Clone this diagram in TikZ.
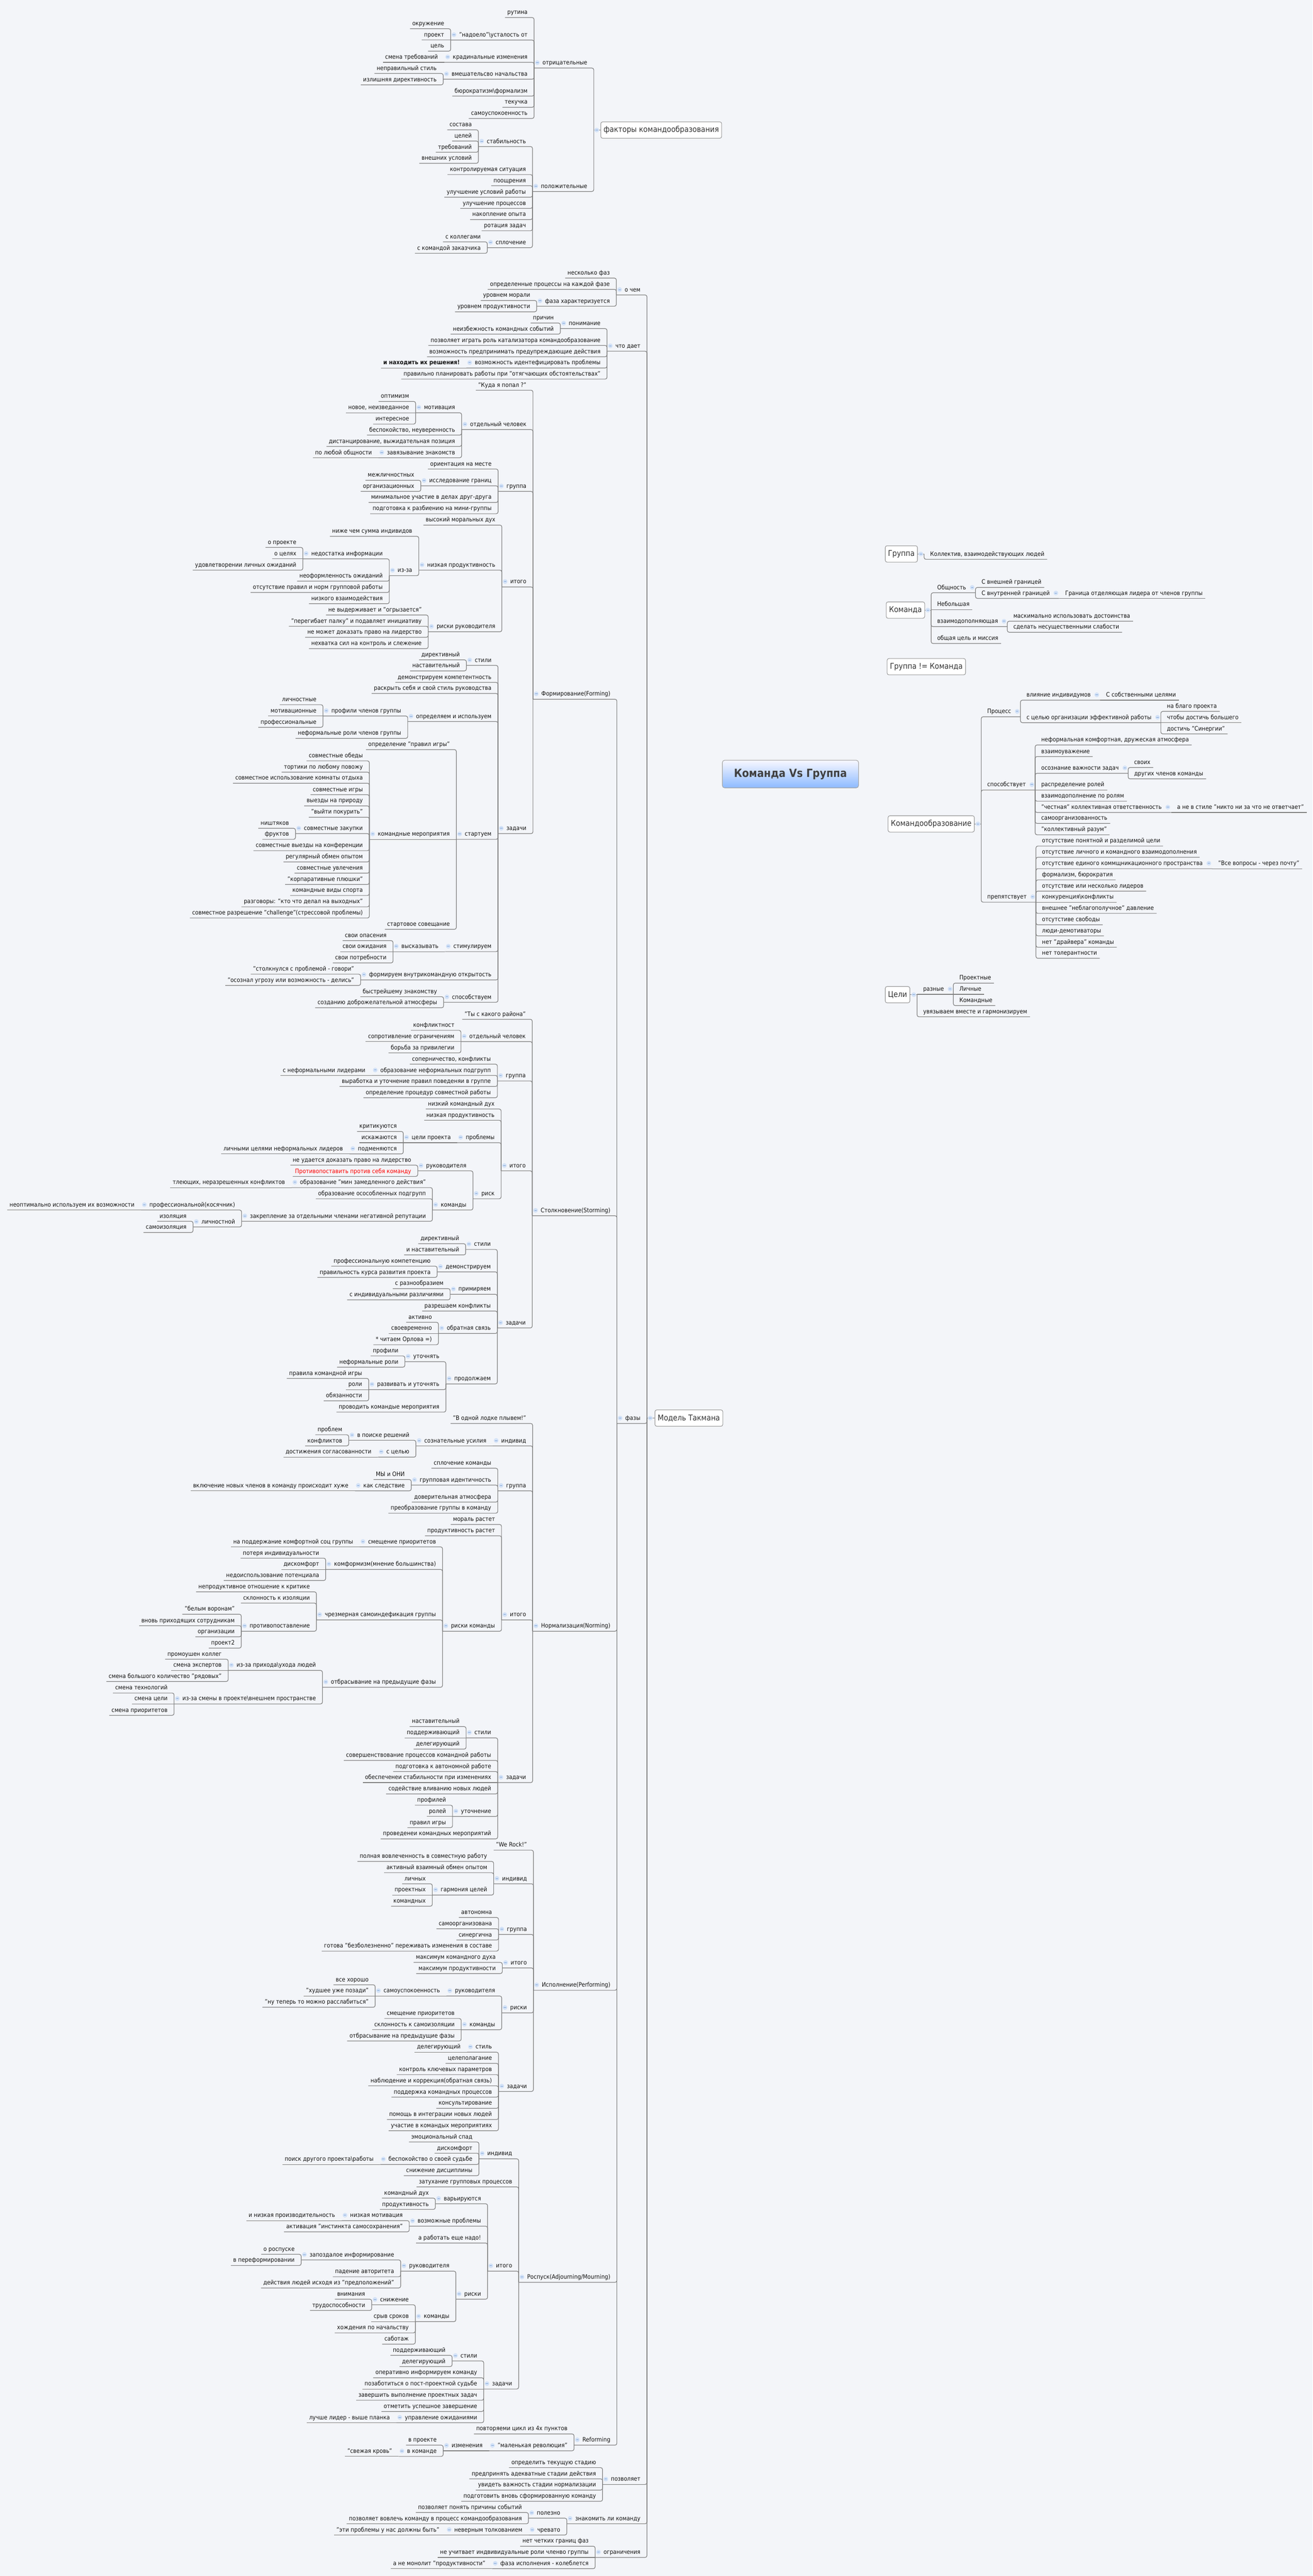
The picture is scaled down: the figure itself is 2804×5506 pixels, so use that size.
\documentclass[tikz,border=0pt]{standalone}
\usepackage{fontspec}
\setmainfont{DejaVu Sans}[FakeStretch=0.89]
\usetikzlibrary{backgrounds}
\definecolor{pagebg}{HTML}{F3F5F9}
\definecolor{linecol}{HTML}{808080}
\definecolor{icfill}{HTML}{D3E2F7}
\definecolor{icline}{HTML}{7FA3D6}
\newcounter{lf}
\tikzset{
  tp/.style={inner xsep=0pt,inner ysep=0pt,outer sep=0pt,text height=10pt,text depth=7pt,font=\fontsize{13pt}{15pt}\selectfont,text=black!92},
  conn/.style={draw=linecol,line width=1.3pt,rounded corners=4pt},
  rootline/.style={draw=linecol,line width=1pt},
  bx/.style={draw=black!40,fill=white,line width=1.2pt,rounded corners=4pt,minimum height=35pt,inner xsep=6pt,inner ysep=0pt,outer sep=0pt,font=\fontsize{17pt}{20pt}\selectfont,text=black!80},
  ic/.style={circle,fill=icfill,inner sep=0pt,outer sep=0pt,minimum size=10pt},
  icm/.style={draw=icline,line width=1pt},
  hub/.style={inner sep=0pt,outer sep=0pt,minimum size=0pt}
}
\newcommand{\connL}[2]{%
  \pgfpointanchor{#1}{south}\pgfgetlastxy{\cxa}{\cya}%
  \pgfpointanchor{#2}{south}\pgfgetlastxy{\pxa}{\pya}%
  \pgfmathtruncatemacro{\samey}{abs(\cya-\pya)<1.5}%
  \ifnum\samey=1 \draw[conn] (#1.south west) -- (#1.south east);%
  \else \draw[conn] (#1.south west) -- (#1.south east) -- (#1.south east |- #2.south west);\fi}
\newcommand{\connR}[2]{%
  \pgfpointanchor{#1}{south}\pgfgetlastxy{\cxa}{\cya}%
  \pgfpointanchor{#2}{south}\pgfgetlastxy{\pxa}{\pya}%
  \pgfmathtruncatemacro{\samey}{abs(\cya-\pya)<1.5}%
  \ifnum\samey=1 \draw[conn] (#1.south east) -- (#1.south west);%
  \else \draw[conn] (#1.south east) -- (#1.south west) -- (#1.south west |- #2.south east);\fi}
% left-growing: topic with children, and leaf
\newcommand{\TL}[5][]{%
  \node[tp,anchor=south east,#1] (#2) at (#3.south west |- 0,#4) {\hspace*{18pt}#5\hspace*{14pt}};%
  \connL{#2}{#3}%
  \node[ic] (#2-i) at ([shift={(7,-11.5)}]#2.south west) {};%
  \draw[icm] ([xshift=2.5pt]#2-i.west) -- ([xshift=-2.5pt]#2-i.east);}
\newcommand{\LL}[4][]{%
  \stepcounter{lf}\edef\nm{l\arabic{lf}}%
  \node[tp,anchor=south east,#1] (\nm) at (#2.south west |- 0,#3) {\hspace*{5pt}#4\hspace*{14pt}};%
  \connL{\nm}{#2}}
% right-growing
\newcommand{\TR}[5][]{%
  \node[tp,anchor=south west,#1] (#2) at (#3.south east |- 0,#4) {\hspace*{13pt}#5\hspace*{20pt}};%
  \connR{#2}{#3}%
  \node[ic] (#2-i) at ([shift={(-7,-11.5)}]#2.south east) {};%
  \draw[icm] ([xshift=2.5pt]#2-i.west) -- ([xshift=-2.5pt]#2-i.east);}
\newcommand{\LR}[4][]{%
  \stepcounter{lf}\edef\nm{l\arabic{lf}}%
  \node[tp,anchor=south west,#1] (\nm) at (#2.south east |- 0,#3) {\hspace*{13pt}#4\hspace*{6pt}};%
  \connR{\nm}{#2}}
\newcommand{\boxicon}[2]{%
  \node[ic] (#1) at (#2) {};%
  \draw[icm] ([xshift=2.5pt]#1.west) -- ([xshift=-2.5pt]#1.east);}
\newcommand{\bs}{\textbackslash{}}
\begin{document}
\begin{tikzpicture}[x=1pt,y=-1pt]
\path[use as bounding box] (0,0) rectangle (2804,5506);
\fill[pagebg] (0,0) rectangle (2804,5506);
% central and main boxes
\node[draw=black!35,line width=1.2pt,rounded corners=5pt,top color=blue!3!white,bottom color=cyan!40!blue!45!white,minimum width=291pt,minimum height=59pt,inner sep=0pt,outer sep=0pt,font=\bfseries\fontsize{24pt}{28pt}\selectfont,text=black!75] (root) at (1688.5,1654.5) {Команда Vs Группа};
\node[bx,anchor=east] (fb) at (1541.6,278) {факторы командообразования};
\node[bx,anchor=east] (mb) at (1544,3031) {Модель Такмана};
\node[bx,anchor=west] (gb) at (1891,1184) {Группа};
\node[bx,anchor=west] (kb) at (1893,1304) {Команда};
\node[bx,anchor=west] (nb) at (1895,1425) {Группа != Команда};
\node[bx,anchor=west] (ob) at (1897,1761) {Командообразование};
\node[bx,anchor=west] (cb) at (1891,2126) {Цели};
\begin{scope}[on background layer]
\draw[rootline] (root.center) -- (fb.east);
\draw[rootline] (root.center) -- (mb.east);
\draw[rootline] (root.center) -- (gb.west);
\draw[rootline] (root.center) -- (kb.west);
\draw[rootline] (root.center) -- (nb.west);
\draw[rootline] (root.center) -- (ob.west);
\draw[rootline] (root.center) -- (cb.west);
\end{scope}
% hubs
\node[hub] (fh) at (1268.4,278) {};
\node[hub] (mh) at (1382,3031) {};
\node[hub] (gh) at (1974,1184) {};
\node[hub] (kh) at (1989,1304) {};
\node[hub] (oh) at (2096,1761) {};
\node[hub] (ch) at (1959,2126) {};
\draw[conn] (fh) -- (fb.west);
\draw[conn] (mh) -- (mb.west);
\draw[conn] (gh) -- (gb.east);
\draw[conn] (kh) -- (kb.east);
\draw[conn] (oh) -- (ob.east);
\draw[conn] (ch) -- (cb.east);
\boxicon{fi}{1274.6,278}
\boxicon{mi}{1389,3031}
\boxicon{gi}{1967,1184}
\boxicon{ki}{1982,1304}
\boxicon{oi}{2089,1761}
\boxicon{ci}{1952,2126}
% ---- факторы
\TL{f1}{fh}{145.4}{отрицательные}
\LL{f1}{37.5}{рутина}
\TL{f11}{f1}{85.7}{"надоело"\bs усталость от}
\LL{f11}{61.4}{окружение}
\LL{f11}{85.7}{проект}
\LL{f11}{109.3}{цель}
\TL{f12}{f1}{133.2}{крадинальные изменения}
\LL{f12}{133.2}{смена требований}
\TL{f13}{f1}{169.3}{вмешательсво начальства}
\LL{f13}{157}{неправильный стиль}
\LL{f13}{181.4}{излишняя директивность}
\LL{f1}{205.4}{бюрократизм\bs формализм}
\LL{f1}{229.3}{текучка}
\LL{f1}{253.2}{самоуспокоенность}
\TL{f2}{fh}{409.3}{положительные}
\TL{f21}{f2}{313.2}{стабильность}
\LL{f21}{277.5}{состава}
\LL{f21}{301.4}{целей}
\LL{f21}{325.4}{требований}
\LL{f21}{349}{внешних условий}
\LL{f2}{373.2}{контролируемая ситуация}
\LL{f2}{397}{поощрения}
\LL{f2}{421.4}{улучшение условий работы}
\LL{f2}{445.4}{улучшение процессов}
\LL{f2}{469.3}{накопление опыта}
\LL{f2}{493.2}{ротация задач}
\TL{f22}{f2}{529.3}{сплочение}
\LL{f22}{517}{с коллегами}
\LL{f22}{541.4}{с командой заказчика}
% ---- о чем
\TL{m1}{mh}{630.4}{о чем}
\LL{m1}{594.4}{несколько фаз}
\LL{m1}{618.5}{определенные процессы на каждой фазе}
\TL{m11}{m1}{654.5}{фаза характеризуется}
\LL{m11}{642.2}{уровнем морали}
\LL{m11}{666.4}{уровнем продуктивности}
% ---- что дает
\TL{m2}{mh}{750.6}{что дает}
\TL{m21}{m2}{702.3}{понимание}
\LL{m21}{690.5}{причин}
\LL{m21}{714.2}{неизбежность командных событий}
\LL{m2}{738.3}{позволяет играть роль катализатора командообразование}
\LL{m2}{762.5}{возможность предпринимать предупреждающие действия}
\TL{m22}{m2}{786.6}{возможность идентефицировать проблемы}
\LL{m22}{786.6}{\bfseries и находить их решения!}
\LL{m2}{810.3}{правильно планировать работы при "отягчающих обстоятельствах"}
% ---- фазы
\TL{ph}{mh}{3042.5}{фазы}
% Формирование
\TL{a}{ph}{1494.5}{Формирование(Forming)}
\LL{a}{834}{"Куда я попал ?"}
\TL{a1}{a}{918.2}{отдельный человек}
\TL{a11}{a1}{882.3}{мотивация}
\LL{a11}{858}{оптимизм}
\LL{a11}{882.3}{новое, неизведанное}
\LL{a11}{906.4}{интересное}
\LL{a1}{930}{беспокойство, неуверенность}
\LL{a1}{954.2}{дистанцирование, выжидательная позиция}
\TL{a12}{a1}{978.4}{завязывание знакомств}
\LL{a12}{978.4}{по любой общности}
\TL{a2}{a}{1050.3}{группа}
\LL{a2}{1002.5}{ориентация на месте}
\TL{a21}{a2}{1038.5}{исследование границ}
\LL{a21}{1026.6}{межличностных}
\LL{a21}{1050.3}{организационных}
\LL{a2}{1074}{минимальное участие в делах друг-друга}
\LL{a2}{1098}{подготовка к разбиению на мини-группы}
\TL{a3}{a}{1254.5}{итого}
\LL{a3}{1122.3}{высокий моральных дух}
\TL{a31}{a3}{1218.6}{низкая продуктивность}
\LL{a31}{1146.3}{ниже чем сумма индивидов}
\TL{a311}{a31}{1230.4}{из-за}
\TL{a3111}{a311}{1194.5}{недостатка информации}
\LL{a3111}{1170}{о проекте}
\LL{a3111}{1194.5}{о целях}
\LL{a3111}{1218.6}{удовлетворении личных ожиданий}
\LL{a311}{1242.2}{неоформленность ожиданий}
\LL{a311}{1266.3}{отсутствие правил и норм групповой работы}
\LL{a311}{1290.4}{низкого взаимодействия}
\TL{a32}{a3}{1350.4}{риски руководителя}
\LL{a32}{1314.5}{не выдерживает и "огрызается"}
\LL{a32}{1338.6}{"перегибает палку" и подавляет инициативу}
\LL{a32}{1362.2}{не может доказать право на лидерство}
\LL{a32}{1386.3}{нехватка сил на контроль и слежение}
\TL{a4}{a}{1781.8}{задачи}
\TL{a41}{a4}{1422.2}{стили}
\LL{a41}{1410.4}{директивный}
\LL{a41}{1434}{наставительный}
\LL{a4}{1458.6}{демонстрируем компетентность}
\LL{a4}{1482.2}{раскрыть себя и свой стиль руководства}
\TL{a42}{a4}{1542.2}{определяем и используем}
\TL{a421}{a42}{1530.4}{профили членов группы}
\LL{a421}{1506.3}{личностные}
\LL{a421}{1530.4}{мотивационные}
\LL{a421}{1554.5}{профессиональные}
\LL{a42}{1578.2}{неформальные роли членов группы}
\TL{a43}{a4}{1794}{стартуем}
\LL{a43}{1602.2}{определение "правил игры"}
\TL{a431}{a43}{1794}{командные мероприятия}
\LL{a431}{1626.3}{совместные обеды}
\LL{a431}{1650.4}{тортики по любому повожу}
\LL{a431}{1674}{совместное использование комнаты отдыха}
\LL{a431}{1698.6}{совместные игры}
\LL{a431}{1722.6}{выезды на природу}
\LL{a431}{1746.7}{"выйти покурить"}
\TL{a4311}{a431}{1781.8}{совместные закупки}
\LL{a4311}{1770.4}{ништяков}
\LL{a4311}{1794}{фруктов}
\LL{a431}{1818.2}{совместные выезды на конференции}
\LL{a431}{1842.2}{регулярный обмен опытом}
\LL{a431}{1866.3}{совместные увлечения}
\LL{a431}{1890.4}{"корпаративные плюшки"}
\LL{a431}{1914}{командные виды спорта}
\LL{a431}{1938.2}{разговоры: "кто что делал на выходных"}
\LL{a431}{1962.2}{совместное разрешение "challenge"(стрессовой проблемы)}
\LL{a43}{1986.3}{стартовое совещание}
\TL{a44}{a4}{2034}{стимулируем}
\TL{a441}{a44}{2034}{высказывать}
\LL{a441}{2010.4}{свои опасения}
\LL{a441}{2034}{свои ожидания}
\LL{a441}{2058.2}{свои потребности}
\TL{a45}{a4}{2094.5}{формируем внутрикомандную открытость}
\LL{a45}{2082.2}{"столкнулся с проблемой - говори"}
\LL{a45}{2106.3}{"осознал угрозу или возможность - делись"}
\TL{a46}{a4}{2142.2}{способствуем}
\LL{a46}{2130.4}{быстрейшему знакомству}
\LL{a46}{2154}{созданию доброжелательной атмосферы}
% Столкновение
\TL{b}{ph}{2598.5}{Столкновение(Storming)}
\LL{b}{2178.6}{"Ты с какого района"}
\TL{b1}{b}{2226.3}{отдельный человек}
\LL{b1}{2202.2}{конфликтност}
\LL{b1}{2226.3}{сопротивление ограничениям}
\LL{b1}{2250.4}{борьба за привилегии}
\TL{b2}{b}{2310.4}{группа}
\LL{b2}{2274.5}{соперничество, конфликты}
\TL{b21}{b2}{2298.6}{образование неформальных подгрупп}
\LL{b21}{2298.6}{с неформальными лидерами}
\LL{b2}{2322.2}{выработка и уточнение правил поведеняи в группе}
\LL{b2}{2346.3}{определение процедур совместной работы}
\TL{b3}{b}{2502.6}{итого}
\LL{b3}{2370.4}{низкий командный дух}
\LL{b3}{2394.4}{низкая продуктивность}
\TL{b31}{b3}{2442.4}{проблемы}
\TL{b311}{b31}{2442.4}{цели проекта}
\LL{b311}{2418.4}{критикуются}
\LL{b311}{2442.4}{искажаются}
\TL{b3111}{b311}{2466.4}{подменяются}
\LL{b3111}{2466.4}{личными целями неформальных лидеров}
\TL{b32}{b3}{2562.3}{риск}
\TL{b321}{b32}{2502.6}{руководителя}
\LL{b321}{2490.4}{не удается доказать право на лидерство}
\LL[text=red]{b321}{2514.4}{Противопоставить против себя команду}
\TL{b322}{b32}{2586.3}{команды}
\TL{b3221}{b322}{2538.4}{образование "мин замедленного действия"}
\LL{b3221}{2538.4}{тлеющих, неразрешенных конфликтов}
\LL{b322}{2562.3}{образование осособленных подгрупп}
\TL{b3222}{b322}{2610.3}{закрепление за отдельными членами негативной репутации}
\TL{b32221}{b3222}{2586.3}{профессиональной(косячник)}
\LL{b32221}{2586.3}{неоптимально используем их возможности}
\TL{b32222}{b3222}{2622.5}{личностной}
\LL{b32222}{2610.3}{изоляция}
\LL{b32222}{2634.3}{самоизоляция}
\TL{b4}{b}{2838.4}{задачи}
\TL{b41}{b4}{2670.5}{стили}
\LL{b41}{2658.3}{директивный}
\LL{b41}{2682.3}{и наставительный}
\TL{b42}{b4}{2718.5}{демонстрируем}
\LL{b42}{2706.3}{профессиональную компетенцию}
\LL{b42}{2730.3}{правильность курса развития проекта}
\TL{b43}{b4}{2766.5}{примиряем}
\LL{b43}{2754.3}{с разнообразием}
\LL{b43}{2778.3}{с индивидуальными различиями}
\LL{b4}{2802.2}{разрешаем конфликты}
\TL{b44}{b4}{2850.2}{обратная связь}
\LL{b44}{2826.2}{активно}
\LL{b44}{2850.2}{своевременно}
\LL{b44}{2874.2}{* читаем Орлова =)}
\TL{b45}{b4}{2958}{продолжаем}
\TL{b451}{b45}{2910.4}{уточнять}
\LL{b451}{2898.2}{профили}
\LL{b451}{2922.2}{неформальные роли}
\TL{b452}{b45}{2970.2}{развивать и уточнять}
\LL{b452}{2946.2}{правила командной игры}
\LL{b452}{2970.2}{роли}
\LL{b452}{2994.2}{обязанности}
\LL{b45}{3018.2}{проводить командые мероприятия}
% Нормализация
\TL{c}{ph}{3486.6}{Нормализация(Norming)}
\LL{c}{3042.5}{"В одной лодке плывем!"}
\TL{c1}{c}{3090.4}{индивид}
\TL{c11}{c1}{3090.4}{сознательные усилия}
\TL{c111}{c11}{3078.5}{в поиске решений}
\LL{c111}{3066.7}{проблем}
\LL{c111}{3090.4}{конфликтов}
\TL{c112}{c11}{3114.5}{с целью}
\LL{c112}{3114.5}{достижения согласованности}
\TL{c2}{c}{3186.5}{группа}
\LL{c2}{3138.2}{сплочение команды}
\TL{c21}{c2}{3174.2}{групповая идентичность}
\LL{c21}{3162.3}{МЫ и ОНИ}
\TL{c211}{c21}{3186.5}{как следствие}
\LL{c211}{3186.5}{включение новых членов в команду происходит хуже}
\LL{c2}{3210.6}{доверительная атмосфера}
\LL{c2}{3234.3}{преобразование группы в команду}
\TL{c3}{c}{3462.5}{итого}
\LL{c3}{3258.4}{мораль растет}
\LL{c3}{3282.6}{продуктивность растет}
\TL{c31}{c3}{3486.6}{риски команды}
\TL{c311}{c31}{3306.3}{смещение приоритетов}
\LL{c311}{3306.3}{на поддержание комфортной соц группы}
\TL{c312}{c31}{3354.5}{комформизм(мнение большинства)}
\LL{c312}{3330.4}{потеря индивидуальности}
\LL{c312}{3354.5}{дискомфорт}
\LL{c312}{3378.2}{недоиспользование потенциала}
\TL{c313}{c31}{3462.5}{чрезмерная самоиндефикация группы}
\LL{c313}{3402.4}{непродуктивное отношение к критике}
\LL{c313}{3426.5}{склонность к изоляции}
\TL{c3131}{c313}{3486.6}{противопоставление}
\LL{c3131}{3450.2}{"белым воронам"}
\LL{c3131}{3474.7}{вновь приходящих сотрудникам}
\LL{c3131}{3498.5}{организации}
\LL{c3131}{3522.6}{проект2}
\TL{c314}{c31}{3606.4}{отбрасывание на предыдущие фазы}
\TL{c3141}{c314}{3570.4}{из-за прихода\bs ухода людей}
\LL{c3141}{3546.3}{промоушен коллег}
\LL{c3141}{3570.4}{смена экспертов}
\LL{c3141}{3594}{смена большого количество "рядовых"}
\TL{c3142}{c314}{3642}{из-за смены в проекте\bs внешнем пространстве}
\LL{c3142}{3618.6}{смена технологий}
\LL{c3142}{3642}{смена цели}
\LL{c3142}{3666.3}{смена приоритетов}
\TL{c4}{c}{3810.2}{задачи}
\TL{c41}{c4}{3714.5}{стили}
\LL{c41}{3690.4}{наставительный}
\LL{c41}{3714.5}{поддерживающий}
\LL{c41}{3738.6}{делегирующий}
\LL{c4}{3762.7}{совершенствование процессов командной работы}
\LL{c4}{3786.5}{подготовка к автономной работе}
\LL{c4}{3810.2}{обеспеченеи стабильности при изменениях}
\LL{c4}{3834.3}{содействие вливанию новых людей}
\TL{c42}{c4}{3882.5}{уточнение}
\LL{c42}{3858.4}{профилей}
\LL{c42}{3882.5}{ролей}
\LL{c42}{3906.3}{правил игры}
\LL{c4}{3930.4}{проведенеи командных мероприятий}
% Исполнение
\TL{d}{ph}{4254}{Исполнение(Performing)}
\LL{d}{3954.5}{"We Rock!"}
\TL{d1}{d}{4026.4}{индивид}
\LL{d1}{3978.6}{полная вовлеченность в совместную работу}
\LL{d1}{4002.7}{активный взаимный обмен опытом}
\TL{d11}{d1}{4050.5}{гармония целей}
\LL{d11}{4026.4}{личных}
\LL{d11}{4050.5}{проектных}
\LL{d11}{4074.3}{командных}
\TL{d2}{d}{4134.7}{группа}
\LL{d2}{4098.4}{автономна}
\LL{d2}{4122.5}{самоорганизована}
\LL{d2}{4146.6}{синергична}
\LL{d2}{4170.3}{готова "безболезненно" переживать изменения в составе}
\TL{d3}{d}{4206.3}{итого}
\LL{d3}{4194.4}{максимум командного духа}
\LL{d3}{4218.3}{максимум продуктивности}
\TL{d4}{d}{4302.3}{риски}
\TL{d41}{d4}{4266.3}{руководителя}
\TL{d411}{d41}{4266.3}{самоуспокоенность}
\LL{d411}{4242.3}{все хорошо}
\LL{d411}{4266.3}{"худшее уже позади"}
\LL{d411}{4290.3}{"ну теперь то можно расслабиться"}
\TL{d42}{d4}{4338.3}{команды}
\LL{d42}{4314.3}{смещение приоритетов}
\LL{d42}{4338.3}{склонность к самоизоляции}
\LL{d42}{4362.3}{отбрасывание на предыдущие фазы}
\TL{d5}{d}{4470.3}{задачи}
\TL{d51}{d5}{4386.3}{стиль}
\LL{d51}{4386.3}{делегирующий}
\LL{d5}{4410.3}{целеполагание}
\LL{d5}{4434.3}{контроль ключевых параметров}
\LL{d5}{4458.3}{наблюдение и коррекция(обратная связь)}
\LL{d5}{4482.3}{поддержка командных процессов}
\LL{d5}{4506.3}{консультирование}
\LL{d5}{4530.3}{помощь в интеграции новых людей}
\LL{d5}{4554.3}{участие в командых мероприятиях}
% Роспуск
\TL{e}{ph}{4878.3}{Роспуск(Adjourning/Mourning)}
\TL{e1}{e}{4614.3}{индивид}
\LL{e1}{4578.3}{эмоциональный спад}
\LL{e1}{4602.3}{дискомфорт}
\TL{e11}{e1}{4626.3}{беспокойство о своей судьбе}
\LL{e11}{4626.3}{поиск другого проекта\bs работы}
\LL{e1}{4650.3}{снижение дисциплины}
\LL{e}{4674.3}{затухание групповых процессов}
\TL{e2}{e}{4854.3}{итого}
\TL{e21}{e2}{4710.3}{варьируются}
\LL{e21}{4698.3}{командный дух}
\LL{e21}{4722.3}{продуктивность}
\TL{e22}{e2}{4758.3}{возможные проблемы}
\TL{e221}{e22}{4746.3}{низкая мотивация}
\LL{e221}{4746.3}{и низкая производительность}
\LL{e22}{4770.3}{активация "инстинкта самосохранения"}
\LL{e2}{4794.3}{а работать еще надо!}
\TL{e23}{e2}{4914.3}{риски}
\TL{e231}{e23}{4854.3}{руководителя}
\TL{e2311}{e231}{4830.3}{запоздалое информирование}
\LL{e2311}{4818.3}{о роспуске}
\LL{e2311}{4842.3}{в переформировании}
\LL{e231}{4866.3}{падение авторитета}
\LL{e231}{4890.3}{действия людей исходя из "предположений"}
\TL{e232}{e23}{4962.3}{команды}
\TL{e2321}{e232}{4926.3}{снижение}
\LL{e2321}{4914.3}{внимания}
\LL{e2321}{4938.3}{трудоспособности}
\LL{e232}{4962.3}{срыв сроков}
\LL{e232}{4986.3}{хождения по начальству}
\LL{e232}{5010.3}{саботаж}
\TL{e3}{e}{5106.3}{задачи}
\TL{e31}{e3}{5046.3}{стили}
\LL{e31}{5034.3}{поддерживающий}
\LL{e31}{5058.3}{делегирующий}
\LL{e3}{5082.3}{оперативно информируем команду}
\LL{e3}{5106.3}{позаботиться о пост-проектной судьбе}
\LL{e3}{5130.3}{завершить выполнение проектных задач}
\LL{e3}{5154.3}{отметить успешное завершение}
\TL{e32}{e3}{5178.3}{управление ожиданиями}
\LL{e32}{5178.3}{лучше лидер - выше планка}
% Reforming
\TL{r}{ph}{5226.3}{Reforming}
\LL{r}{5202.3}{повторяеми цикл из 4х пунктов}
\TL{r1}{r}{5238.3}{"маленькая революция"}
\TL{r11}{r1}{5238.3}{изменения}
\LL{r11}{5226.3}{в проекте}
\TL{r111}{r11}{5250.3}{в команде}
\LL{r111}{5250.3}{"свежая кровь"}
% позволяет etc
\TL{m4}{mh}{5310.3}{позволяет}
\LL{m4}{5274.3}{определить текущую стадию}
\LL{m4}{5298.3}{предпринять адекватные стадии действия}
\LL{m4}{5322.3}{увидеть важность стадии нормализации}
\LL{m4}{5346.3}{подготовить вновь сформированную команду}
\TL{m5}{mh}{5394.3}{знакомить ли команду}
\TL{m51}{m5}{5382.3}{полезно}
\LL{m51}{5370.3}{позволяет понять причины событий}
\LL{m51}{5394.3}{позволяет вовлечь команду в процесс командообразования}
\TL{m52}{m5}{5418.3}{чревато}
\TL{m521}{m52}{5418.3}{неверным толкованием}
\LL{m521}{5418.3}{"эти проблемы у нас должны быть"}
\TL{m6}{mh}{5466.3}{ограничения}
\LL{m6}{5442.3}{нет четких границ фаз}
\LL{m6}{5466.3}{не учитвает индвивидуальные роли членво группы}
\TL{m61}{m6}{5490.3}{фаза исполнения - колеблется}
\LL{m61}{5490.3}{а не монолит "продуктивности"}
% ---- right side
\LR{gh}{1195.5}{Коллектив, взаимодействующих людей}
\TR{k1}{kh}{1267}{Общность}
\LR{k1}{1255.6}{С внешней границей}
\TR{k11}{k1}{1279}{С внутренней границей}
\LR{k11}{1279}{Граница отделяющая лидера от членов группы}
\LR{kh}{1303}{Небольшая}
\TR{k2}{kh}{1339.4}{взаимодополняющая}
\LR{k2}{1327.8}{маскимально использовать достоинства}
\LR{k2}{1351.4}{сделать несущественными слабости}
\LR{kh}{1375.4}{общая цель и миссия}
\TR{o1}{oh}{1532}{Процесс}
\TR{o11}{o1}{1496.5}{влияние индивидумов}
\LR{o11}{1496.5}{С собственными целями}
\TR{o12}{o1}{1544.6}{с целью организации эффективной работы}
\LR{o12}{1520.5}{на благо проекта}
\LR{o12}{1544.6}{чтобы достичь большего}
\LR{o12}{1568.6}{достичь "Синергии"}
\TR{o2}{oh}{1688.5}{способствует}
\LR{o2}{1592.3}{неформальная комфортная, дружеская атмосфера}
\LR{o2}{1617}{взаимоуважение}
\TR{o21}{o2}{1652.8}{осознание важности задач}
\LR{o21}{1640.4}{своих}
\LR{o21}{1664.8}{других членов команды}
\LR{o2}{1688.5}{распределение ролей}
\LR{o2}{1712.5}{взаимодополнение по ролям}
\TR{o22}{o2}{1736.6}{"честная" коллективная ответственность}
\LR{o22}{1736.6}{а не в стиле "никто ни за что не ответчает"}
\LR{o2}{1760}{самоорганизованность}
\LR{o2}{1784.3}{"коллективный разум"}
\TR{o3}{oh}{1928.3}{препятствует}
\LR{o3}{1808.3}{отсутствие понятной и разделимой цели}
\LR{o3}{1832.3}{отсутствие личного и командного взаимодополнения}
\TR{o31}{o3}{1856.7}{отсутствие единого коммщникационного пространства}
\LR{o31}{1856.7}{"Все вопросы - через почту"}
\LR{o3}{1880.7}{формализм, бюрократия}
\LR{o3}{1904.7}{отсутствие или несколько лидеров}
\LR{o3}{1928.3}{конкуренция\bs конфликты}
\LR{o3}{1952.3}{внешнее "неблагополучное" давление}
\LR{o3}{1976.7}{отсутстиве свободы}
\LR{o3}{2000.3}{люди-демотиваторы}
\LR{o3}{2024.7}{нет "драйвера" команды}
\LR{o3}{2048.3}{нет толерантности}
\TR{c9}{ch}{2125.3}{разные}
\LR{c9}{2101.3}{Проектные}
\LR{c9}{2125.3}{Личные}
\LR{c9}{2149.3}{Командные}
\LR{ch}{2173.3}{увязываем вместе и гармонизируем}
\end{tikzpicture}
\end{document}
